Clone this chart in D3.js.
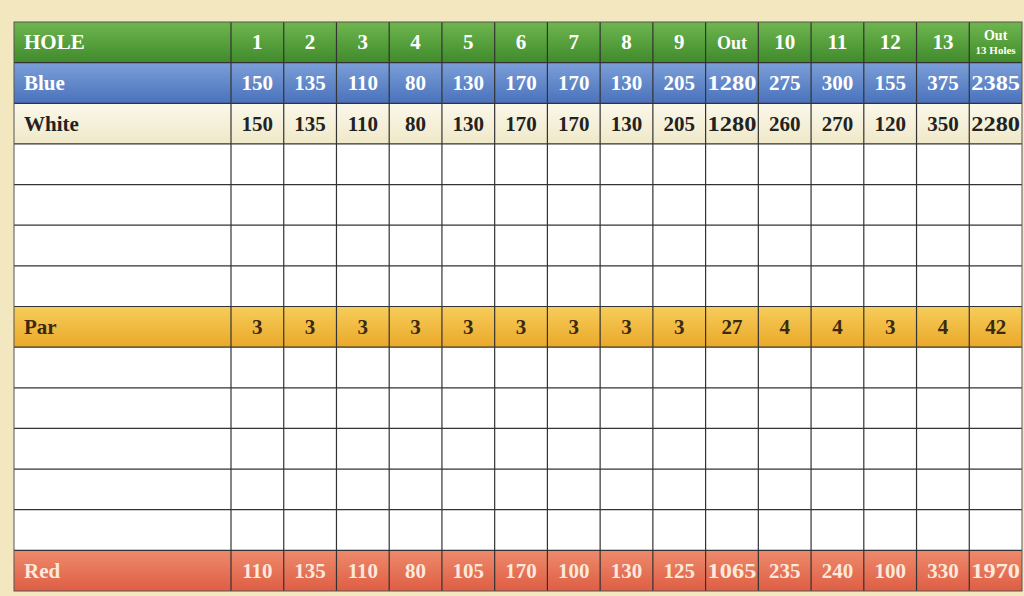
<!DOCTYPE html>
<html>
<head>
<meta charset="utf-8">
<script src="https://cdn.jsdelivr.net/npm/d3@7"></script>
<style>
  body { margin:0; background:#f2e7bf; }
  text { font-family:"Liberation Serif","DejaVu Serif",serif; font-weight:bold; }
</style>
</head>
<body>
<script>
// columns of the scorecard
var holes = ["1","2","3","4","5","6","7","8","9","Out","10","11","12","13","Out|13 Holes"];
var blue  = [150,135,110,80,130,170,170,130,205,1280,275,300,155,375,2385];
var white = [150,135,110,80,130,170,170,130,205,1280,260,270,120,350,2280];
var par   = [3,3,3,3,3,3,3,3,3,27,4,4,3,4,42];
var red   = [110,135,110,80,105,170,100,130,125,1065,235,240,100,330,1970];

// row list: key, label, values, fill, text colour
var rows = [
  {key:"hole", label:"HOLE", vals:holes, fill:"g-green", color:"#fff"},
  {key:"blue", label:"Blue", vals:blue, fill:"g-blue", color:"#fff"},
  {key:"white", label:"White", vals:white, fill:"g-cream", color:"#222"},
  {key:"e1"},{key:"e2"},{key:"e3"},{key:"e4"},
  {key:"par", label:"Par", vals:par, fill:"g-par", color:"#3a2a10"},
  {key:"e5"},{key:"e6"},{key:"e7"},{key:"e8"},{key:"e9"},
  {key:"red", label:"Red", vals:red, fill:"g-red", color:"#fbe9dc"}
];

var W = 1024, H = 596;
var cardLeft = 14, labelRight = 231, cardRight = 1022, cardTop = 22, cardBottom = 591;

var svg = d3.select("body").append("svg").attr("width", W).attr("height", H);

// gradients
var defs = svg.append("defs");
[["g-green","#6fb64e","#3f8a2c"],["g-blue","#7c9fd8","#4a72bc"],["g-cream","#fbf8ea","#efe8c8"],
 ["g-par","#f7cd5a","#eaa82a"],["g-red","#ee8a6c","#de5e44"]].forEach(function(g){
  var lg = defs.append("linearGradient").attr("id", g[0]).attr("x1",0).attr("x2",0).attr("y1",0).attr("y2",1);
  lg.append("stop").attr("offset","0%").attr("stop-color", g[1]);
  lg.append("stop").attr("offset","100%").attr("stop-color", g[2]);
});

var y = d3.scaleBand().domain(rows.map(function(r){ return r.key; })).range([cardTop, cardBottom]);
var x = d3.scaleBand().domain(d3.range(holes.length)).range([labelRight, cardRight]);

// white card
svg.append("rect").attr("x", cardLeft).attr("y", cardTop).attr("width", cardRight-cardLeft)
  .attr("height", cardBottom-cardTop).attr("fill","#fff");

// coloured rows
var g = svg.selectAll("g.row").data(rows).enter().append("g").attr("class","row")
  .attr("transform", function(r){ return "translate(0," + y(r.key) + ")"; });

g.filter(function(r){ return r.fill; }).append("rect")
  .attr("x", cardLeft).attr("width", cardRight-cardLeft).attr("height", y.bandwidth())
  .attr("fill", function(r){ return "url(#" + r.fill + ")"; });

// grid lines
svg.selectAll("line.h").data(rows.slice(1)).enter().append("line")
  .attr("x1", cardLeft).attr("x2", cardRight)
  .attr("y1", function(r){ return y(r.key); }).attr("y2", function(r){ return y(r.key); })
  .attr("stroke","#333").attr("stroke-width",1.2);
svg.selectAll("line.v").data(d3.range(holes.length)).enter().append("line")
  .attr("x1", function(i){ return x(i); }).attr("x2", function(i){ return x(i); })
  .attr("y1", cardTop).attr("y2", cardBottom)
  .attr("stroke","#333").attr("stroke-width",1.2);
svg.append("rect").attr("x", cardLeft).attr("y", cardTop).attr("width", cardRight-cardLeft)
  .attr("height", cardBottom-cardTop).attr("fill","none").attr("stroke","#555").attr("stroke-width",1);

// labels
var mid = y.bandwidth()/2;
g.filter(function(r){ return r.label; }).append("text")
  .attr("x", cardLeft + 10).attr("y", mid + 7)
  .attr("font-size", 21).attr("fill", function(r){ return r.color; })
  .text(function(r){ return r.label; });

// values
g.filter(function(r){ return r.vals; }).each(function(r){
  var row = d3.select(this);
  r.vals.forEach(function(v, i){
    var s = String(v);
    var cx = x(i) + x.bandwidth()/2;
    if (s.indexOf("|") >= 0) {
      var parts = s.split("|");
      row.append("text").attr("x", cx).attr("y", mid - 2).attr("text-anchor","middle")
        .attr("font-size", 14).attr("font-weight","normal").attr("fill", r.color).text(parts[0]);
      row.append("text").attr("x", cx).attr("y", mid + 12).attr("text-anchor","middle")
        .attr("font-size", 11).attr("font-weight","normal").attr("fill", r.color).text(parts[1]);
    } else {
      var t = row.append("text").attr("x", cx).attr("y", mid + 7).attr("text-anchor","middle")
        .attr("font-size", s === "Out" ? 18 : 21).attr("fill", r.color)
        .text(s);
      if (s.length >= 4) t.attr("textLength", x.bandwidth() - 4).attr("lengthAdjust","spacingAndGlyphs");
    }
  });
});
</script>
</body>
</html>
